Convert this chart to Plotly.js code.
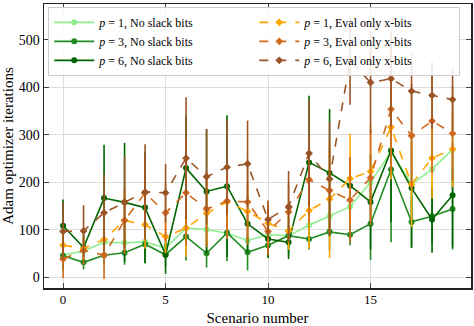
<!DOCTYPE html>
<html><head><meta charset="utf-8">
<script src="https://cdn.plot.ly/plotly-3.0.1.min.js"></script>
<style>html,body{margin:0;padding:0;background:#fff}#c{width:474px;height:326px}</style>
</head><body><div id="c"></div>
<script>
const scenarios = [0,1,2,3,4,5,6,7,8,9,10,11,12,13,14,15,16,17,18,19];
const p1NoSlack = [47,56,74,73,75,62,104,101,93,78,90,88,110,129,149,200,264,196,228,269];
const p1NoSlackErr = [37,20,25,25,25,20,40,35,35,30,25,25,40,45,50,60,70,60,60,70];
const p3NoSlack = [46,32,47,52,70,48,86,51,94,53,68,88,81,96,90,113,227,117,129,144];
const p3NoSlackErr = [30,15,20,25,40,25,50,30,60,38,25,40,22,40,22,76,153,55,57,85];
const p6NoSlack = [109,63,167,158,147,48,230,181,192,113,81,74,242,220,193,159,267,188,122,173];
const p6NoSlackErr = [55,30,112,125,117,40,110,131,149,60,40,35,140,134,60,100,150,125,70,110];
const p1Eval = [68,61,80,120,111,86,104,135,159,139,114,98,141,165,208,223,316,196,251,270];
const p1EvalErr = [30,25,40,60,50,35,60,70,75,60,45,40,80,124,95,100,110,90,85,80];
const p3Eval = [39,57,47,120,178,136,178,144,161,159,97,138,206,183,163,210,354,298,329,303];
const p3EvalErr = [40,30,50,70,80,60,110,80,80,90,50,60,90,90,90,100,130,110,110,100];
const p6Eval = [97,98,136,158,180,178,251,212,232,239,122,149,261,207,456,410,418,392,383,374];
const p6EvalErr = [60,54,80,96,100,61,128,100,100,91,40,75,111,120,93,107,99,80,70,65];

function tr(name, y, err, color, dash, symbol, rank){
  return {x: scenarios, y: y, name: name, type:'scatter', mode:'lines+markers',
    legendrank: rank,
    line:{color:color, width:1.6, dash:dash},
    marker:{color:color, size:6, symbol:symbol},
    error_y:{type:'data', array:err, visible:true, color:color, thickness:1.6, width:0}};
}
const traces = [
  tr('<i>p</i> = 1, No slack bits', p1NoSlack, p1NoSlackErr, '#90ee90', 'solid', 'circle', 1),
  tr('<i>p</i> = 3, No slack bits', p3NoSlack, p3NoSlackErr, '#228b22', 'solid', 'circle', 3),
  tr('<i>p</i> = 6, No slack bits', p6NoSlack, p6NoSlackErr, '#006400', 'solid', 'circle', 5),
  tr('<i>p</i> = 1, Eval only x-bits', p1Eval, p1EvalErr, '#ffa500', 'dash', 'diamond', 2),
  tr('<i>p</i> = 3, Eval only x-bits', p3Eval, p3EvalErr, '#d2691e', 'dash', 'diamond', 4),
  tr('<i>p</i> = 6, Eval only x-bits', p6Eval, p6EvalErr, '#9b5426', 'dash', 'diamond', 6)
];
const font = {family:'"Liberation Serif", "DejaVu Serif", serif', size:14, color:'#000'};
const layout = {
  width:474, height:326,
  margin:{l:44, r:3, t:2, b:36},
  paper_bgcolor:'#fff', plot_bgcolor:'#fff',
  font: font,
  showlegend:true,
  legend:{x:0.01, y:0.99, xanchor:'left', yanchor:'top', orientation:'h',
    entrywidth:150, bgcolor:'rgba(255,255,255,0.85)', bordercolor:'#ccc', borderwidth:1,
    font:{family:font.family, size:12, color:'#000'}, tracegroupgap:0, itemwidth:40},
  xaxis:{range:[-0.93,19.9], tickvals:[0,5,10,15], ticks:'inside', ticklen:5,
    tickfont:{family:font.family, size:13}, ticklabelstandoff:-1,
    showline:true, linecolor:'#222', linewidth:1.5, mirror:'ticks',
    showgrid:true, gridcolor:'#dcdcdc', gridwidth:1, zeroline:false, automargin:true,
    title:{text:'Scenario number', font:{family:font.family, size:15}, standoff:6}},
  yaxis:{range:[-22,575], tickvals:[0,100,200,300,400,500], ticks:'inside', ticklen:5,
    showline:true, linecolor:'#222', linewidth:1.5, mirror:'ticks',
    showgrid:true, gridcolor:'#dcdcdc', gridwidth:1, zeroline:false,
    title:{text:'Adam optimizer iterations', font:{family:font.family, size:15}, standoff:4}}
};
Plotly.newPlot('c', traces, layout, {staticPlot:true, displayModeBar:false});
</script></body></html>
